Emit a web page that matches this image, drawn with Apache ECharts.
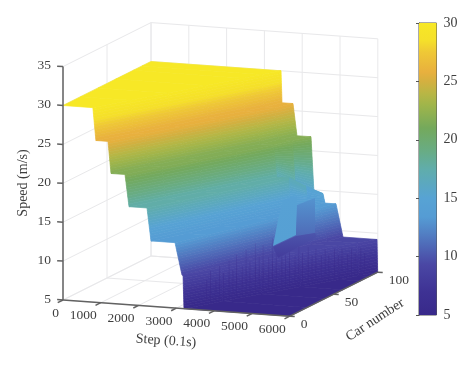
<!DOCTYPE html>
<html><head><meta charset="utf-8">
<style>html,body{margin:0;padding:0;background:#fff}#c{width:474px;height:366px}</style>
<script src="https://cdn.jsdelivr.net/npm/echarts@6/dist/echarts.min.js"></script>
</head><body><div id="c"></div>
<script>
// ---- tick labels ----
const stepTicks = [0,1000,2000,3000,4000,5000,6000];
const carTicks = [0,50,100];
const speedTicks = [5,10,15,20,25,30,35];
const colorbarTicks = [5,10,15,20,25,30];
// ---- surface: speed profile of a car row, read as knots (step, speed) ----
const carRows = [100,90,80,60,40,20,0];
const rowSteps = [
  [0,3440,3466,3757,3862,4233,4312,4550,4603,4894,5080,5980,5995,6000],
  [0,3175,3210,3500,3605,3970,4050,4330,4375,4700,4890,5700,5720,6000],
  [0,2910,2950,3245,3345,3705,3790,4110,4150,4505,4695,5415,5440,6000],
  [0,2380,2430,2730,2825,3180,3260,3650,3695,4120,4310,4850,4880,6000],
  [0,1850,1910,2215,2310,2670,2750,3175,3240,3735,3920,4290,4320,6000],
  [0,1320,1390,1705,1790,2155,2250,2700,2790,3350,3535,3730,3760,6000],
  [0,790,870,1190,1270,1640,1746,2222,2328,2963,3148,3175,3200,6000]
];
const rowSpeeds = [
  [30,30,25.9,25.9,21.8,21.8,14.6,14.6,13.4,13.4,9.2,9.2,5,5],
  [30,30,25.8,25.8,21.8,21.8,16,16,13.4,13.4,9.2,9.2,5,5],
  [30,30,25.8,25.8,21.7,21.7,17.6,17.6,13.4,13.4,9.3,9.3,5,5],
  [30,30,25.8,25.8,21.7,21.7,17.6,17.6,13.4,13.4,9.3,9.3,5,5],
  [30,30,25.8,25.8,21.7,21.7,17.6,17.6,13.4,13.4,9.3,9.3,5,5],
  [30,30,25.8,25.8,21.7,21.7,17.6,17.6,13.4,13.4,9.3,9.3,5,5],
  [30,30,25.8,25.8,21.7,21.7,17.6,17.6,13.4,13.4,9.3,9.3,5,5]
];
// ---- stop-and-go ripple in the low-speed region ----
const rippleCars = [12,14,17,19,21,24,26,28,31,33,35,38,40,42,45,47,49,52,54,56,59,61,63,66,68,70,73,75,77,80,82,84,87,89,91,94,96];
const rippleSteps = [3520,3575,3650,3700,3755,3835,3890,3940,4020,4075,4130,4205,4260,4315,4395,4445,4500,4580,4630,4690,4765,4820,4870,4950,5005,5060,5135,5190,5240,5320,5375,5425,5505,5560,5610,5690,5745];
const rippleTops = [8.1,9.2,8.0,9.6,8.6,10.1,8.7,10.6,9.0,11.0,9.4,11.6,9.8,11.2,9.5,11.8,10.0,11.4,9.4,10.8,9.0,10.1,9.2,9.8,8.6,9.4,8.4,9.1,8.2,8.9,8.0,8.7,7.9,8.5,7.8,8.3,7.6];
// ---- the ridge near the rear cars: corners (step, car, speed) with top/bottom colour speeds ----
const ridgeCorners = [
  [[3460,90,8.05],[3593,90,11.45],[3725,90,14.05],[4095,90,14.7],[4069,90,9.67]],
  [[4095,90,13.54],[4571,90,14.6],[4571,90,10.1],[4069,90,9.55]],
  [[3460,90,7.92],[4069,90,9.55],[4571,90,10.1],[4624,90,9.61],[3990,90,7.72],[3593,90,6.56]]
];
const ridgeTones = [[14.6,14.4],[13,11],[10,8]];
// ---- colour scale ----
const toneSpeeds = [5,7,9.3,10,12,13.4,15,17.5,19,21,23,24,25,25.8,27.5,28.5,30];
const toneColors = ['#38298a','#3e3294','#4a47a4','#4c55ac','#5280c4','#559cd4','#57a3d4','#60adab','#68ac85','#74a95c','#a0b54a','#b9b645','#d4b040','#e8b03e','#efc836','#f5e02a','#f7e826'];

function hex(c){return [1,3,5].map(i=>parseInt(c.substr(i,2),16));}
function tone(v){
  v=Math.max(5,Math.min(30,v));
  let i=0; while(i<toneSpeeds.length-2 && v>toneSpeeds[i+1]) i++;
  const t=(v-toneSpeeds[i])/(toneSpeeds[i+1]-toneSpeeds[i]);
  const a=hex(toneColors[i]),b=hex(toneColors[i+1]);
  return 'rgb('+a.map((x,k)=>Math.round(x+(b[k]-x)*t)).join(',')+')';
}
// 3-D axes -> page scene (orthographic view of the box)
function project(s,c,v){return [63+0.0378*s+0.88*c, 300+0.0027*s-0.44*c-7.78*(v-5)];}

// build surface cells, back to front
const cells=[];
for(let r=0;r<carRows.length-1;r++){
  for(let k=0;k<13;k++){
    const va=rowSpeeds[r][k],vb=rowSpeeds[r][k+1],vc=rowSpeeds[r+1][k],vd=rowSpeeds[r+1][k+1];
    const n=Math.max(1,Math.ceil(Math.max(Math.abs(va-vb),Math.abs(vc-vd))/0.35));
    for(let j=0;j<n;j++){
      const t0=j/n,t1=(j+1)/n;
      const L=(x,y,t)=>x+(y-x)*t;
      const sA=rowSteps[r][k],sB=rowSteps[r][k+1],sC=rowSteps[r+1][k],sD=rowSteps[r+1][k+1];
      cells.push([
        L(sA,sB,t0),carRows[r],L(va,vb,t0),
        L(sA,sB,t1),carRows[r],L(va,vb,t1),
        L(sC,sD,t1),carRows[r+1],L(vc,vd,t1),
        L(sC,sD,t0),carRows[r+1],L(vc,vd,t0)
      ]);
    }
  }
}
const gridLines=[];
speedTicks.forEach(v=>{gridLines.push([0,0,v,0,100,v]);gridLines.push([0,100,v,6000,100,v]);});
stepTicks.forEach(s=>{gridLines.push([s,0,5,s,100,5]);gridLines.push([s,100,5,s,100,35]);});
carTicks.forEach(c=>{gridLines.push([0,c,5,6000,c,5]);gridLines.push([0,c,5,0,c,35]);});

const axisLines=[[0,0,5,0,0,35],[0,0,5,6000,0,5],[6000,0,5,6000,100,5]];
speedTicks.forEach(v=>axisLines.push([0,0,v,-155,0,v]));
stepTicks.forEach(s=>axisLines.push([s,0,5,s,-6,5]));
carTicks.forEach(c=>axisLines.push([6000,c,5,6130,c,5]));

const labels=[];
speedTicks.forEach(v=>{const p=project(0,0,v);labels.push({t:String(v),x:p[0]-12,y:p[1]-1,a:'right'});});
stepTicks.forEach(s=>{const p=project(s,0,5);labels.push({t:String(s),x:p[0]-4,y:p[1]+13,a:'right'});});
carTicks.forEach(c=>{const p=project(6000,c,5);labels.push({t:String(c),x:p[0]+11,y:p[1]+8,a:'left'});});
const titles=[
  {t:'Step (0.1s)',x:166,y:341,r:-0.07},
  {t:'Speed (m/s)',x:23,y:183,r:Math.PI/2},
  {t:'Car number',x:375,y:320,r:0.58}
];
const serif='"Liberation Serif",serif';
const line=(api,a,b,style)=>{
  const p=api.coord(project(a[0],a[1],a[2])),q=api.coord(project(b[0],b[1],b[2]));
  return {type:'line',shape:{x1:p[0],y1:p[1],x2:q[0],y2:q[1]},style};
};
const base={type:'custom',coordinateSystem:'cartesian2d',xAxisIndex:0,yAxisIndex:0,silent:true,clip:false,animation:false,progressive:0};

const option={
  animation:false,
  backgroundColor:'#fff',
  grid:[
    {left:0,top:0,width:474,height:366,show:false},
    {left:419,top:23,width:17.5,height:292,show:true,borderColor:'#555',borderWidth:1,backgroundColor:'transparent'}
  ],
  xAxis:[
    {type:'value',gridIndex:0,min:0,max:474,show:false},
    {type:'value',gridIndex:1,min:0,max:1,show:false}
  ],
  yAxis:[
    {type:'value',gridIndex:0,min:0,max:366,inverse:true,show:false},
    {type:'value',gridIndex:1,min:5,max:30,interval:5,position:'right',
     axisLine:{show:true,lineStyle:{color:'#555',width:1}},
     axisTick:{show:true,inside:true,length:3,lineStyle:{color:'#555'}},
     splitLine:{show:false},
     axisLabel:{color:'#3f3f3f',fontFamily:'Liberation Serif',fontSize:14,margin:7,customValues:colorbarTicks}}
  ],
  series:[
    Object.assign({},base,{name:'frame',z:1,data:gridLines,renderItem:(p,api)=>
      line(api,[api.value(0),api.value(1),api.value(2)],[api.value(3),api.value(4),api.value(5)],{stroke:'#e8e8ea',lineWidth:1})}),
    Object.assign({},base,{name:'Speed surface',z:2,data:cells,renderItem:(p,api)=>{
      const pts=[];let sum=0;
      for(let i=0;i<4;i++){
        const s=api.value(i*3),c=api.value(i*3+1),v=api.value(i*3+2);sum+=v;
        pts.push(api.coord(project(s,c,v)));
      }
      const col=tone(sum/4);
      return {type:'polygon',shape:{points:pts},style:{fill:col,stroke:col,lineWidth:0.7}};
    }}),
    Object.assign({},base,{name:'Ripple',z:3,data:rippleCars.map((c,i)=>[rippleSteps[i],c,rippleTops[i]]),renderItem:(p,api)=>{
      const s=api.value(0),c=api.value(1),v=api.value(2);
      return {type:'line',shape:(()=>{const a=api.coord(project(s,c,5)),b=api.coord(project(s,c,v));return {x1:a[0],y1:a[1],x2:b[0]+0.01,y2:b[1]};})(),
        style:{stroke:new echarts.graphic.LinearGradient(0,1,0,0,[{offset:0,color:tone(5)},{offset:0.5,color:tone(5.5)},{offset:1,color:tone(v-1.6)}]),lineWidth:1,opacity:0.6}};
    }}),
    Object.assign({},base,{name:'Ridge',z:4,data:ridgeCorners.map((r,i)=>[i,0]),renderItem:(p,api)=>{
      const i=api.value(0);
      const pts=ridgeCorners[i].map(q=>api.coord(project(q[0],q[1],q[2])));
      const t=ridgeTones[i];
      return {type:'polygon',shape:{points:pts},style:{fill:new echarts.graphic.LinearGradient(0,0,0,1,[{offset:0,color:tone(t[0])},{offset:1,color:tone(t[1])}])}};
    }}),
    Object.assign({},base,{name:'axes',z:5,data:axisLines,renderItem:(p,api)=>
      line(api,[api.value(0),api.value(1),api.value(2)],[api.value(3),api.value(4),api.value(5)],{stroke:'#626262',lineWidth:1.5})}),
    Object.assign({},base,{name:'labels',z:6,data:labels.map(l=>[l.x,l.y]),renderItem:(p,api)=>{
      const l=labels[p.dataIndex],q=api.coord([l.x,l.y]);
      return {type:'text',x:q[0],y:q[1],style:{text:l.t,fill:'#3f3f3f',font:'13.5px '+serif,textAlign:l.a,textVerticalAlign:'middle'}};
    }}),
    Object.assign({},base,{name:'titles',z:6,data:titles.map(l=>[l.x,l.y]),renderItem:(p,api)=>{
      const l=titles[p.dataIndex],q=api.coord([l.x,l.y]);
      return {type:'text',x:q[0],y:q[1],rotation:l.r,style:{text:l.t,fill:'#3f3f3f',font:'14px '+serif,textAlign:'center',textVerticalAlign:'middle'}};
    }}),
    {type:'custom',name:'Colorbar',coordinateSystem:'cartesian2d',xAxisIndex:1,yAxisIndex:1,silent:true,animation:false,z:1,
     data:[[0,5,1,30]],renderItem:(p,api)=>{
       const a=api.coord([api.value(0),api.value(1)]),b=api.coord([api.value(2),api.value(3)]);
       const stops=toneSpeeds.map((v,i)=>({offset:(30-v)/25,color:toneColors[i]})).reverse();
       return {type:'rect',shape:{x:a[0],y:b[1],width:b[0]-a[0],height:a[1]-b[1]},
         style:{fill:new echarts.graphic.LinearGradient(0,0,0,1,stops)}};
     }}
  ]
};
echarts.init(document.getElementById('c'),null,{renderer:'canvas'}).setOption(option);
</script></body></html>
